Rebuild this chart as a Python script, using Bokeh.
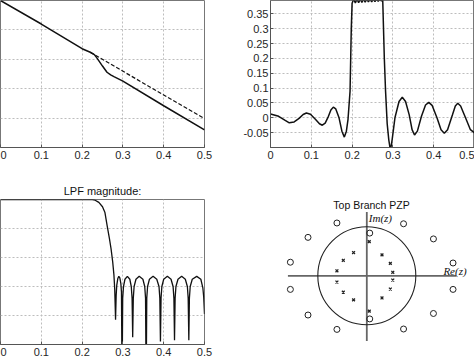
from bokeh.plotting import figure
from bokeh.layouts import column, row
from bokeh.models import FixedTicker, Grid, CustomJSTickFormatter, Range1d
from bokeh.core.properties import value
from bokeh.embed import file_html
from bokeh.resources import INLINE

# ---------------- data ----------------
freq_ticks = [0, 0.1, 0.2, 0.3, 0.4, 0.5]

# top-left: phase (solid = filter, dashed = linear reference)
phase_f = [0.0, 0.1, 0.2, 0.22, 0.23, 0.237, 0.25, 0.261, 0.27, 0.278, 0.3, 0.4, 0.5]
phase_solid = [0.0, -8.0, -16.4, -17.6, -18.4, -19.7, -22.3, -24.4, -25.3, -25.9, -27.4, -35.8, -44.0]
phase_lin_f = [0.22, 0.5]
phase_lin = [-17.6, -40.2]
phase_grid = [-50, -40, -30, -20, -10, 0]

# top-right: delay error
err_f = [0.000, 0.020, 0.035, 0.046, 0.058, 0.070, 0.080, 0.088, 0.098, 0.110, 0.120, 0.127,
         0.134, 0.142, 0.148, 0.154, 0.160, 0.168, 0.175, 0.181, 0.186, 0.190, 0.195, 0.198,
         0.200, 0.204, 0.208, 0.212, 0.216, 0.220, 0.224, 0.228, 0.232, 0.236, 0.240, 0.244,
         0.248, 0.252, 0.256, 0.260, 0.264, 0.268, 0.272, 0.275,
         0.279, 0.282, 0.286, 0.290, 0.294, 0.298, 0.305, 0.315, 0.323, 0.331, 0.340, 0.347,
         0.353, 0.360, 0.370, 0.380, 0.388, 0.396, 0.408, 0.418, 0.426, 0.434, 0.446, 0.453,
         0.459, 0.466, 0.478, 0.490, 0.500]
err_v = [0.013, 0.005, -0.008, -0.017, -0.014, -0.002, 0.011, 0.016, 0.012, -0.005, -0.020, -0.025,
         -0.018, 0.005, 0.026, 0.036, 0.030, 0.000, -0.045, -0.065, -0.045, -0.005, 0.090, 0.300,
         0.386, 0.400, 0.3868, 0.400, 0.3876, 0.400, 0.3884, 0.400, 0.3892, 0.400, 0.3900, 0.400,
         0.3908, 0.400, 0.3916, 0.400, 0.3924, 0.400, 0.3932, 0.400,
         0.200, 0.090, -0.020, -0.075, -0.110, -0.075, 0.000, 0.055, 0.069, 0.055, 0.010, -0.040,
         -0.058, -0.045, 0.005, 0.043, 0.052, 0.042, 0.000, -0.040, -0.052, -0.040, 0.010, 0.040,
         0.049, 0.040, 0.000, -0.040, -0.051]
err_ticks = [-0.05, 0, 0.05, 0.1, 0.15, 0.2, 0.25, 0.3, 0.35, 0.4]

# bottom-left: LPF magnitude (dB)
mag_f = [0.0, 0.10, 0.20, 0.225, 0.232, 0.241, 0.250, 0.256, 0.262, 0.267, 0.271, 0.275, 0.278, 0.280, 0.282,
         0.2835, 0.285, 0.2875, 0.290, 0.2925, 0.295, 0.2965, 0.298,
         0.2995, 0.3015, 0.305, 0.311, 0.317, 0.3205, 0.3225, 0.324,
         0.3255, 0.3275, 0.332, 0.340, 0.349, 0.3535, 0.3555, 0.357,
         0.3585, 0.3605, 0.365, 0.374, 0.383, 0.3885, 0.3905, 0.392,
         0.3935, 0.3955, 0.400, 0.409, 0.418, 0.423, 0.425, 0.4265,
         0.428, 0.430, 0.435, 0.444, 0.453, 0.458, 0.460, 0.4616,
         0.463, 0.465, 0.470, 0.481, 0.491, 0.496, 0.498, 0.500]
mag_db = [0, 0, 0, 0, -0.5, -2, -5, -9, -19, -27, -34, -43, -52, -62, -83,
          -66, -59, -54.5, -53, -54, -58, -64, -130,
          -68, -60, -55, -53, -55, -60, -68, -95,
          -68, -60, -55, -53, -55, -60, -68, -130,
          -68, -60, -55, -53, -55, -60, -68, -98,
          -68, -60, -55, -53, -55, -60, -68, -97,
          -68, -60, -55, -53, -55, -60, -68, -97,
          -68, -60, -55, -53, -55, -61, -67, -79]
mag_grid = [-100, -80, -60, -40, -20, 0]

# bottom-right: pole-zero plot
zeros_re = [-0.61, 0.75, -1.20, 1.36, 0.06, -1.56, 1.76, -1.56, 1.76, -1.20, 1.36, 0.06, -0.61, 0.75]
zeros_im = [1.36, 1.34, 0.99, 0.95, 1.10, 0.35, 0.33, -0.35, -0.35, -1.01, -0.97, -1.11, -1.38, -1.37]
poles_re = [0.05, -0.27, 0.31, -0.48, 0.48, -0.61, 0.53, -0.61, 0.53, -0.48, 0.48, -0.27, 0.31, 0.05]
poles_im = [0.88, 0.60, 0.54, 0.40, 0.32, 0.13, 0.09, -0.16, -0.11, -0.42, -0.34, -0.62, -0.57, -0.91]
re_axis = [-1.61, 1.82]
im_axis = [-1.68, 1.64]

FONT = "Liberation Sans"
TXT = "#262626"
fmt = CustomJSTickFormatter(code="return (Math.round(tick*1000)/1000).toString();")


def style(p, yticks):
    p.background_fill_color = "white"
    p.border_fill_color = "white"
    p.outline_line_color = "#777777"
    p.outline_line_width = 1
    for ax in p.axis:
        ax.axis_line_color = "#555555"
        ax.major_tick_in = 3
        ax.major_tick_out = 0
        ax.minor_tick_line_color = None
        ax.major_tick_line_color = "#555555"
        ax.major_label_text_font = FONT
        ax.major_label_text_font_size = "11px"
        ax.major_label_text_color = TXT
        ax.major_label_standoff = 3
        ax.formatter = fmt
    p.xaxis.ticker = FixedTicker(ticks=freq_ticks)
    ygr = [g for g in p.select(type=Grid) if g.dimension == 1]
    if not ygr:
        g = Grid(dimension=1)
        p.add_layout(g)
        ygr = [g]
    for g in ygr:
        g.ticker = FixedTicker(ticks=yticks)
    for g in p.select(type=Grid):
        g.grid_line_color = "#bdbdbd"
        g.grid_line_dash = "2 2"
        g.grid_line_width = 1
    for g in p.select(type=Grid):
        if g.dimension == 0:
            g.ticker = FixedTicker(ticks=freq_ticks)


# top-left
p1 = figure(width=240, height=175, output_backend="svg", toolbar_location=None,
            x_range=Range1d(0, 0.5), y_range=Range1d(-50, 0), y_axis_location=None,
            min_border_left=0, min_border_right=36, min_border_top=0, min_border_bottom=28)
style(p1, phase_grid)
p1.line(phase_f, phase_solid, line_color="#111111", line_width=1.5)
p1.line(phase_lin_f, phase_lin, line_color="#111111", line_width=1.2, line_dash="4 2")

# top-right
p2 = figure(width=234, height=175, output_backend="svg", toolbar_location=None,
            x_range=Range1d(0, 0.5), y_range=Range1d(-0.1, 0.395),
            min_border_left=30, min_border_right=0, min_border_top=0, min_border_bottom=28)
style(p2, err_ticks)
p2.yaxis.ticker = FixedTicker(ticks=err_ticks)
p2.yaxis.major_label_standoff = 2
p2.line(err_f, err_v, line_color="#111111", line_width=1.5)

# bottom-left
p3 = figure(width=240, height=183, output_backend="svg", toolbar_location=None,
            x_range=Range1d(0, 0.5), y_range=Range1d(-100, 0), y_axis_location=None,
            min_border_left=0, min_border_right=36, min_border_top=24, min_border_bottom=12)
style(p3, mag_grid)
p3.title.text = "LPF magnitude:"
p3.title.align = "center"
p3.title.text_font = FONT
p3.title.text_font_size = "11px"
p3.title.text_font_style = "normal"
p3.title.text_color = "#111111"
p3.title.standoff = 5
p3.line(mag_f, mag_db, line_color="#111111", line_width=1.3)

# bottom-right
p4 = figure(width=234, height=183, output_backend="svg", toolbar_location=None,
            x_range=Range1d(-2.578, 2.198), y_range=Range1d(-1.769, 1.965),
            x_axis_location=None, y_axis_location=None,
            min_border_left=0, min_border_right=0, min_border_top=0, min_border_bottom=0)
p4.outline_line_color = None
p4.grid.visible = False
p4.background_fill_color = "white"
p4.border_fill_color = "white"
p4.line(re_axis, [0, 0], line_color="#666666", line_width=1.8)
p4.line([0, 0], im_axis, line_color="#666666", line_width=1.8)
p4.circle(x=[0], y=[0], radius=1.0, fill_color=None, line_color="#222222", line_width=1.1)
p4.scatter(zeros_re, zeros_im, marker="circle", size=6, fill_color=None,
           line_color="#222222", line_width=1.0)
p4.scatter(poles_re, poles_im, marker="x", size=4, line_color="#222222", line_width=1.3)
p4.text(x=[0.096], y=[1.83], text=["Top Branch PZP"], text_align="center",
        text_baseline="middle", text_font=value(FONT), text_font_size="10.5px", text_color="#111111")
p4.text(x=[0.04], y=[1.48], text=["Im(z)"], text_align="left", text_baseline="middle",
        text_font=value("Liberation Serif"), text_font_style="italic", text_font_size="11px",
        text_color="#111111")
p4.text(x=[1.80], y=[0.13], text=["Re(z)"], text_align="center", text_baseline="middle",
        text_font=value("Liberation Serif"), text_font_style="italic", text_font_size="11px",
        text_color="#111111")

layout = column(row(p1, p2), row(p3, p4))
open("out.html", "w").write(file_html(layout, INLINE))
